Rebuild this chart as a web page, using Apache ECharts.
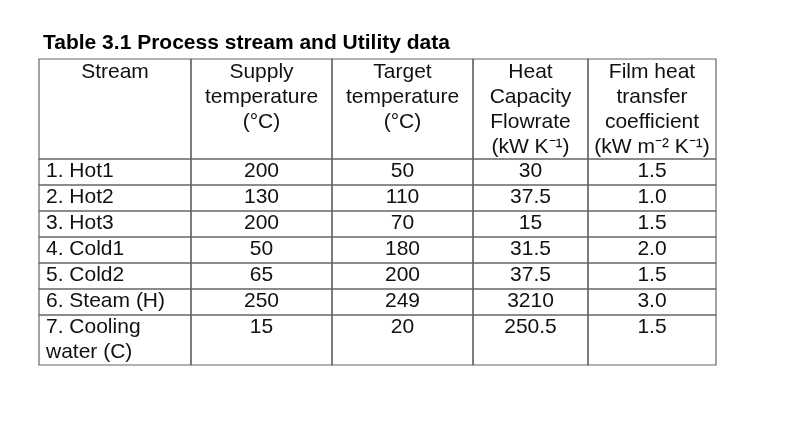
<!DOCTYPE html>
<html><head><meta charset="utf-8">
<script src="https://cdn.jsdelivr.net/npm/echarts@6/dist/echarts.min.js"></script>
<style>html,body{margin:0;padding:0;background:#fff}#c{width:810px;height:439px}</style>
</head><body><div id="c"></div>
<script>
const title = 'Table 3.1 Process stream and Utility data';
const headers = ['Stream','Supply\ntemperature\n(°C)','Target\ntemperature\n(°C)','Heat\nCapacity\nFlowrate\n(kW K⁻¹)','Film heat\ntransfer\ncoefficient\n(kW m⁻² K⁻¹)'];
const streams = ['1. Hot1','2. Hot2','3. Hot3','4. Cold1','5. Cold2','6. Steam (H)','7. Cooling\nwater (C)'];
const supplyT = ['200','130','200','50','65','250','15'];
const targetT = ['50','110','70','180','200','249','20'];
const heatCap = ['30','37.5','15','31.5','37.5','3210','250.5'];
const filmCoef = ['1.5','1.0','1.5','2.0','1.5','3.0','1.5'];

// layout (pixel units on hidden axes)
const colEdges = [39,191,332,473,588,716];
const rowEdges = [59,159,185,211,237,263,289,315,365];

const cols = [streams, supplyT, targetT, heatCap, filmCoef];
const cells = [];
headers.forEach((h,c)=>cells.push([c,0,h]));
cols.forEach((arr,c)=>arr.forEach((v,r)=>cells.push([c,r+1,v])));

const chart = echarts.init(document.getElementById('c'));
chart.setOption({
  animation:false,
  grid:{left:0,right:0,top:0,bottom:0},
  xAxis:{type:'value',min:0,max:810,show:false},
  yAxis:{type:'value',min:0,max:439,inverse:true,show:false},
  series:[{
    type:'custom',
    coordinateSystem:'cartesian2d',
    data:cells.map(d=>[d[0],d[1]]),
    renderItem:(params,api)=>{
      const i = params.dataIndex;
      const [c,r,txt] = cells[i];
      const p0 = api.coord([colEdges[c],rowEdges[r]]);
      const p1 = api.coord([colEdges[c+1],rowEdges[r+1]]);
      const left = c===0;
      const header = r===0;
      return {type:'group',children:[
        {type:'rect',shape:{x:p0[0],y:p0[1],width:p1[0]-p0[0],height:p1[1]-p0[1]},
         style:{fill:'none',stroke:'#666',lineWidth:1.2}},
        {type:'text',style:{text:txt,
          x: left && !header ? p0[0]+7 : (p0[0]+p1[0])/2,
          y: p0[1]+(header?1:0),
          align: left && !header ? 'left':'center', verticalAlign:'top',
          font:'21px "Liberation Sans", Arial, sans-serif', lineHeight:25, fill:'#111'}}
      ]};
    }
  }],
  graphic:[{type:'text',left:43,top:33,style:{text:title,font:'bold 21px "Liberation Sans", Arial, sans-serif',fill:'#000'}}]
});
</script></body></html>
